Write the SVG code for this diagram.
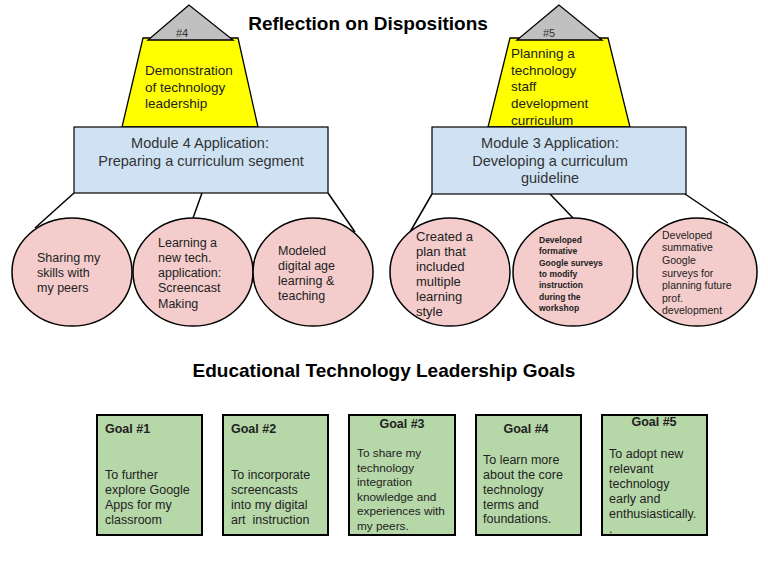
<svg xmlns="http://www.w3.org/2000/svg" width="768" height="576" viewBox="0 0 768 576">
<style>
text{font-family:"Liberation Sans",Arial,sans-serif;fill:#222}
.title{font-size:19px;font-weight:bold;fill:#000;text-anchor:middle}
.tri{fill:#C0C0C0;stroke:#000;stroke-width:1.3}
.trap{fill:#FFFF00;stroke:#000;stroke-width:1.3}
.box{fill:#CFE2F3;stroke:#000;stroke-width:1.2}
.circ{fill:#F4CCCC;stroke:#000;stroke-width:1.5}
.goal{fill:#B6D7A8;stroke:#000;stroke-width:2}
.num{font-size:11px;fill:#333;text-anchor:middle}
.tt{font-size:13.5px}
.mod{font-size:14.5px;text-anchor:middle;fill:#333}
.c{font-size:12.5px}
.c4{font-size:13px}
.c5{font-size:8.5px;font-weight:bold}
.c6{font-size:10.5px}
.gh{font-size:12.5px;font-weight:bold}
.gt{font-size:12.5px}
.gt3{font-size:11.8px}
.mid{text-anchor:middle}
#connectors line{stroke:#000;stroke-width:1.5}
</style>
<rect width="768" height="576" fill="#fff"/>
<text class="title" x="368" y="30">Reflection on Dispositions</text>
<text class="title" x="384" y="377">Educational Technology Leadership Goals</text>

<g id="connectors">
<line x1="74" y1="193" x2="35" y2="228"/>
<line x1="202" y1="193" x2="193" y2="218"/>
<line x1="328" y1="193" x2="355" y2="232"/>
<line x1="432" y1="194" x2="410" y2="232"/>
<line x1="550" y1="194" x2="573" y2="218"/>
<line x1="685" y1="194" x2="728" y2="223"/>
</g>

<g id="disposition4">
<polygon class="trap" points="143,38 238,38 258,127 122,127"/>
<polygon class="tri" points="189,5 148,40 233,40"/>
<text class="num" x="182" y="37">#4</text>
<text class="tt" x="145" y="75">Demonstration</text>
<text class="tt" x="145" y="92">of technology</text>
<text class="tt" x="145" y="108">leadership</text>
</g>

<g id="disposition5">
<polygon class="trap" points="510,38 608,38 630,127 488,127"/>
<polygon class="tri" points="559,5 517,40 602,40"/>
<text class="num" x="549" y="37">#5</text>
<text class="tt" x="511" y="58">Planning a</text>
<text class="tt" x="511" y="75">technology</text>
<text class="tt" x="511" y="91">staff</text>
<text class="tt" x="511" y="108">development</text>
<text class="tt" x="511" y="125">curriculum</text>
</g>

<g id="module4">
<rect class="box" x="74" y="127" width="254" height="66"/>
<text class="mod" x="200" y="148">Module 4 Application:</text>
<text class="mod" x="201" y="166">Preparing a curriculum segment</text>
</g>

<g id="module3">
<rect class="box" x="432" y="127" width="254" height="67"/>
<text class="mod" x="550" y="148">Module 3 Application:</text>
<text class="mod" x="550" y="166">Developing a curriculum</text>
<text class="mod" x="550" y="183">guideline</text>
</g>

<g id="outcome1">
<ellipse class="circ" cx="72" cy="272" rx="60" ry="54"/>
<text class="c" x="37" y="262">Sharing my</text>
<text class="c" x="37" y="277">skills with</text>
<text class="c" x="37" y="292">my peers</text>
</g>

<g id="outcome2">
<ellipse class="circ" cx="193" cy="272" rx="60" ry="54"/>
<text class="c" x="158" y="247">Learning a</text>
<text class="c" x="158" y="262">new tech.</text>
<text class="c" x="158" y="277">application:</text>
<text class="c" x="158" y="292">Screencast</text>
<text class="c" x="158" y="308">Making</text>
</g>

<g id="outcome3">
<ellipse class="circ" cx="313" cy="272" rx="60" ry="54"/>
<text class="c" x="278" y="255">Modeled</text>
<text class="c" x="278" y="270">digital age</text>
<text class="c" x="278" y="285">learning &amp;</text>
<text class="c" x="278" y="300">teaching</text>
</g>

<g id="outcome4">
<ellipse class="circ" cx="450" cy="272" rx="60" ry="54"/>
<text class="c4" x="416" y="241">Created a</text>
<text class="c4" x="416" y="256">plan that</text>
<text class="c4" x="416" y="271">included</text>
<text class="c4" x="416" y="286">multiple</text>
<text class="c4" x="416" y="301">learning</text>
<text class="c4" x="416" y="316">style</text>
</g>

<g id="outcome5">
<ellipse class="circ" cx="573" cy="272" rx="60" ry="54"/>
<text class="c5" x="539" y="243">Developed</text>
<text class="c5" x="539" y="254">formative</text>
<text class="c5" x="539" y="266">Google surveys</text>
<text class="c5" x="539" y="277">to modify</text>
<text class="c5" x="539" y="288">instruction</text>
<text class="c5" x="539" y="300">during the</text>
<text class="c5" x="539" y="311">workshop</text>
</g>

<g id="outcome6">
<ellipse class="circ" cx="697" cy="272" rx="60" ry="54"/>
<text class="c6" x="662" y="239">Developed</text>
<text class="c6" x="662" y="251">summative</text>
<text class="c6" x="662" y="264">Google</text>
<text class="c6" x="662" y="277">surveys for</text>
<text class="c6" x="662" y="289">planning future</text>
<text class="c6" x="662" y="302">prof.</text>
<text class="c6" x="662" y="314">development</text>
</g>

<g id="goal1">
<rect class="goal" x="97" y="415" width="105" height="120"/>
<text class="gh" x="105" y="433">Goal #1</text>
<text class="gt" x="105" y="479">To further</text>
<text class="gt" x="105" y="494">explore Google</text>
<text class="gt" x="105" y="509">Apps for my</text>
<text class="gt" x="105" y="524">classroom</text>
</g>

<g id="goal2">
<rect class="goal" x="223" y="415" width="105" height="120"/>
<text class="gh" x="231" y="433">Goal #2</text>
<text class="gt" x="231" y="479">To incorporate</text>
<text class="gt" x="231" y="494">screencasts</text>
<text class="gt" x="231" y="509">into my digital</text>
<text class="gt" x="231" y="524" xml:space="preserve">art  instruction</text>
</g>

<g id="goal3">
<rect class="goal" x="349" y="415" width="106" height="120"/>
<text class="gh mid" x="402" y="428">Goal #3</text>
<text class="gt3" x="357" y="457">To share my</text>
<text class="gt3" x="357" y="472">technology</text>
<text class="gt3" x="357" y="486">integration</text>
<text class="gt3" x="357" y="501">knowledge and</text>
<text class="gt3" x="357" y="515">experiences with</text>
<text class="gt3" x="357" y="530">my peers.</text>
</g>

<g id="goal4">
<rect class="goal" x="476" y="415" width="105" height="120"/>
<text class="gh mid" x="526" y="433">Goal #4</text>
<text class="gt" x="483" y="464">To learn more</text>
<text class="gt" x="483" y="479">about the core</text>
<text class="gt" x="483" y="494">technology</text>
<text class="gt" x="483" y="509">terms and</text>
<text class="gt" x="483" y="523">foundations.</text>
</g>

<g id="goal5">
<rect class="goal" x="602" y="415" width="105" height="120"/>
<text class="gh mid" x="654" y="426">Goal #5</text>
<text class="gt" x="609" y="458">To adopt new</text>
<text class="gt" x="609" y="473">relevant</text>
<text class="gt" x="609" y="488">technology</text>
<text class="gt" x="609" y="503">early and</text>
<text class="gt" x="609" y="518">enthusiastically.</text>
<text class="gt" x="609" y="533">.</text>
</g>
</svg>
